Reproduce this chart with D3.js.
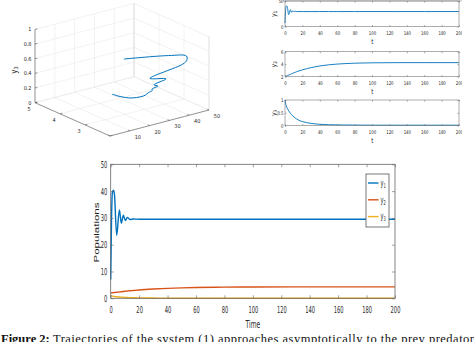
<!DOCTYPE html>
<html>
<head>
<meta charset="utf-8">
<script src="https://cdn.jsdelivr.net/npm/d3@7"></script>
<style>
  body { margin: 0; background: #fff; }
  svg { display: block; }
</style>
</head>
<body>
<script>
// sampled solution of the system, shared by every panel
const times = [0, 0.6, 1.2, 1.9, 2.6, 4.2, 6.1, 7.5, 8.9, 10.3, 11.7, 13.5, 16, 20, 30, 40, 50, 60, 80, 100, 130, 160, 200];
const y1 = [7, 30, 39.5, 40.3, 39, 23.5, 33, 28, 31, 29, 30.2, 29.4, 29.6, 29.5, 29.5, 29.5, 29.5, 29.5, 29.5, 29.5, 29.5, 29.5, 29.5];
const y2 = [2, 2.03, 2.07, 2.12, 2.17, 2.26, 2.37, 2.46, 2.54, 2.62, 2.7, 2.8, 2.92, 3.1, 3.45, 3.72, 3.9, 4.02, 4.16, 4.22, 4.25, 4.25, 4.25];
const y3 = [1, 0.88, 0.8, 0.73, 0.68, 0.58, 0.49, 0.43, 0.38, 0.34, 0.3, 0.26, 0.21, 0.16, 0.09, 0.055, 0.04, 0.03, 0.025, 0.02, 0.02, 0.02, 0.02];

const seriesSubs = ['1', '2', '3'];
const seriesColors = ['#0072BD', '#D95319', '#EDB120'];
const timeTicks = d3.range(0, 201, 20);
const popTicks = d3.range(0, 51, 10);
const panelTicks = [[0, 50], [2, 4, 6], [0, 0.5, 1]];
const panelDomains = [[0, 50], [2, 6], [0, 1]];
const phaseXTicks = d3.range(0, 51, 10);
const phaseYTicks = [2, 3, 4, 5];
const phaseZTicks = [0, 0.2, 0.4, 0.6, 0.8, 1];
const caption = 'Trajectories of the system (1) approaches asymptotically to the prey predator';

const FONT = '"Liberation Sans Narrow","DejaVu Sans Condensed","Liberation Sans",Arial,sans-serif';
const SANS = '"Liberation Sans",Arial,sans-serif';
const fmt = d3.format('~g');

const svg = d3.select('body').append('svg').attr('width', 474).attr('height', 342);
const defs = svg.append('defs');

// text squeezed horizontally by k, optionally rotated, with an optional subscript
function label(parent, x, y, txt, opts = {}) {
  const k = opts.k || 1;
  const g = parent.append('g')
    .attr('transform', `translate(${x},${y}) scale(${k},1)` + (opts.rotate ? ` rotate(${opts.rotate})` : ''));
  const t = g.append('text')
    .attr('text-anchor', opts.anchor || 'middle')
    .attr('dy', opts.dy || '0.35em')
    .attr('font-size', opts.size || 10)
    .attr('font-family', opts.family || FONT)
    .attr('fill', opts.fill || '#262626')
    .text(txt);
  if (opts.sub) {
    t.append('tspan').attr('dy', '0.3em').attr('font-size', (opts.size || 10) * 0.7).text(opts.sub);
  }
  return t;
}

function styleAxis(sel, size, k, labels = true) {
  sel.select('.domain').remove();
  sel.selectAll('line').attr('stroke', '#666').attr('stroke-width', 0.6);
  if (!labels) { sel.selectAll('text').remove(); return; }
  sel.selectAll('text')
    .attr('font-size', size)
    .attr('font-family', FONT)
    .attr('fill', '#262626')
    .each(function() {
      const t = d3.select(this);
      const x = +t.attr('x') || 0;
      t.attr('x', x / k).attr('transform', `scale(${k},1)`);
    });
}

/* ------- main time plot ------- */
const main = {left: 110.7, right: 395, top: 164.3, bottom: 298.3};
const x = d3.scaleLinear().domain([0, 200]).range([main.left, main.right]);
const y = d3.scaleLinear().domain([0, 50]).range([main.bottom, main.top]);
const mainG = svg.append('g');

mainG.append('rect')
  .attr('x', main.left).attr('y', main.top)
  .attr('width', main.right - main.left).attr('height', main.bottom - main.top)
  .attr('fill', '#fff');

[y1, y2, y3].forEach((vals, k) => {
  mainG.append('path')
    .attr('d', d3.line().x((d, i) => x(times[i])).y(d => y(d)).curve(d3.curveMonotoneX)(vals))
    .attr('fill', 'none')
    .attr('stroke', seriesColors[k])
    .attr('stroke-width', 1.4);
});

mainG.append('g').attr('transform', `translate(0,${main.bottom})`)
  .call(d3.axisBottom(x).tickValues(timeTicks).tickFormat(fmt).tickSize(-3).tickPadding(8))
  .call(s => styleAxis(s, 9.5, 0.6));
mainG.append('g').attr('transform', `translate(0,${main.top})`)
  .call(d3.axisTop(x).tickValues(timeTicks).tickSize(-3))
  .call(s => styleAxis(s, 9, 1, false));
mainG.append('g').attr('transform', `translate(${main.left},0)`)
  .call(d3.axisLeft(y).tickValues(popTicks).tickFormat(fmt).tickSize(-3).tickPadding(3.4))
  .call(s => styleAxis(s, 9.5, 0.6));
mainG.append('g').attr('transform', `translate(${main.right},0)`)
  .call(d3.axisRight(y).tickValues(popTicks).tickSize(-3))
  .call(s => styleAxis(s, 9, 1, false));

mainG.append('rect')
  .attr('x', main.left).attr('y', main.top)
  .attr('width', main.right - main.left).attr('height', main.bottom - main.top)
  .attr('fill', 'none').attr('stroke', '#666').attr('stroke-width', 0.8);

label(mainG, (main.left + main.right) / 2, 324.5, 'Time', {k: 0.6, size: 11});
label(mainG, 96.2, 232.5, 'Populations', {k: 0.6, size: 11.5, rotate: -90, family: SANS, fill: '#1a1a1a'});

// legend
const legend = mainG.append('g');
legend.append('rect')
  .attr('x', 366).attr('y', 174).attr('width', 23).attr('height', 53)
  .attr('fill', '#fff').attr('stroke', '#555').attr('stroke-width', 0.8);
seriesColors.forEach((c, k) => {
  const ly = 183 + k * 16.8;
  legend.append('line')
    .attr('x1', 368).attr('x2', 378.5).attr('y1', ly).attr('y2', ly)
    .attr('stroke', c).attr('stroke-width', 1.4);
  label(legend, 380.5, ly - 0.5, 'y', {k: 0.6, size: 9.5, anchor: 'start', sub: seriesSubs[k]});
});

/* ------- three small panels, y1, y2, y3 against t ------- */
defs.append('clipPath').attr('id', 'clip-panels')
  .append('rect').attr('x', 262).attr('y', 0).attr('width', 200).attr('height', 150);
const panels = svg.append('g').attr('clip-path', 'url(#clip-panels)');
panels.append('rect').attr('x', 283).attr('y', 0).attr('width', 191).attr('height', 1.6).attr('fill', '#d2d2d2');

const px = d3.scaleLinear().domain([0, 200]).range([285, 459]);
const panelBoxes = [[1, 26.7], [51.7, 76.7], [100, 125.7]];
[y1, y2, y3].forEach((vals, k) => {
  const [top, bottom] = panelBoxes[k];
  const py = d3.scaleLinear().domain(panelDomains[k]).range([bottom, top]);
  const g = panels.append('g');
  g.append('path')
    .attr('d', d3.line().x((d, i) => px(times[i])).y(d => py(d)).curve(d3.curveMonotoneX)(vals))
    .attr('fill', 'none').attr('stroke', seriesColors[0]).attr('stroke-width', 0.9);
  g.append('g').attr('transform', `translate(0,${bottom})`)
    .call(d3.axisBottom(px).tickValues(timeTicks).tickFormat(fmt).tickSize(-1.5).tickPadding(4.8))
    .call(s => styleAxis(s, 5, 0.85));
  g.append('g').attr('transform', `translate(0,${top})`)
    .call(d3.axisTop(px).tickValues(timeTicks).tickSize(-1.5))
    .call(s => styleAxis(s, 5, 1, false));
  g.append('g').attr('transform', 'translate(285,0)')
    .call(d3.axisLeft(py).tickValues(panelTicks[k]).tickFormat(fmt).tickSize(-1.5).tickPadding(1.5))
    .call(s => styleAxis(s, 5, 0.85));
  g.append('g').attr('transform', 'translate(459,0)')
    .call(d3.axisRight(py).tickValues(panelTicks[k]).tickSize(-1.5))
    .call(s => styleAxis(s, 5, 1, false));
  g.append('rect')
    .attr('x', 285).attr('y', top).attr('width', 174).attr('height', bottom - top)
    .attr('fill', 'none').attr('stroke', '#777').attr('stroke-width', 0.6);
  label(g, 372.3, bottom + 15, 't', {k: 0.85, size: 7});
  label(g, 273.5, (top + bottom) / 2, 'y', {k: 1, size: 7, rotate: -90, sub: seriesSubs[k]});
});

/* ------- phase portrait (y1, y2, y3) ------- */
defs.append('clipPath').attr('id', 'clip-phase')
  .append('rect').attr('x', 0).attr('y', 0).attr('width', 265).attr('height', 139);
const phase = svg.append('g').attr('clip-path', 'url(#clip-phase)');

const xs = d3.scaleLinear().domain([0, 50]).range([0, 1]);
const ys = d3.scaleLinear().domain([2, 5]).range([0, 1]);
const zs = d3.scaleLinear().domain([0, 1]).range([0, 1]);
const origin = [110, 136];
const ex = [99, -26], ey = [-75, -33.3], ez = [0, -73.3];
function proj(a, b, c) {
  const u = xs(a), v = ys(b), w = zs(c);
  return [origin[0] + u * ex[0] + v * ey[0] + w * ez[0],
          origin[1] + u * ex[1] + v * ey[1] + w * ez[1]];
}
const seg = (p, q, color, width) => phase.append('line')
  .attr('x1', p[0]).attr('y1', p[1]).attr('x2', q[0]).attr('y2', q[1])
  .attr('stroke', color).attr('stroke-width', width);

const gridColor = '#e4e4e4';
const [xMin, xMax] = xs.domain(), [yMin, yMax] = ys.domain(), [zMin, zMax] = zs.domain();
phaseXTicks.forEach(v => {
  seg(proj(v, yMin, zMin), proj(v, yMax, zMin), gridColor, 0.5);
  seg(proj(v, yMax, zMin), proj(v, yMax, zMax), gridColor, 0.5);
});
phaseYTicks.forEach(v => {
  seg(proj(xMin, v, zMin), proj(xMax, v, zMin), gridColor, 0.5);
  seg(proj(xMax, v, zMin), proj(xMax, v, zMax), gridColor, 0.5);
});
phaseZTicks.forEach(v => {
  seg(proj(xMin, yMax, v), proj(xMax, yMax, v), gridColor, 0.5);
  seg(proj(xMax, yMax, v), proj(xMax, yMin, v), gridColor, 0.5);
});
// box edges at the back
seg(proj(xMax, yMin, zMin), proj(xMax, yMin, zMax), '#d6d6d6', 0.6);
seg(proj(xMax, yMax, zMin), proj(xMax, yMax, zMax), '#d6d6d6', 0.6);

// axis lines with ticks
const axisColor = '#555';
seg(proj(xMin, yMin, zMin), proj(xMax, yMin, zMin), axisColor, 0.6);
seg(proj(xMin, yMin, zMin), proj(xMin, yMax, zMin), axisColor, 0.6);
seg(proj(xMin, yMax, zMin), proj(xMin, yMax, zMax), axisColor, 0.6);
phaseXTicks.forEach(v => {
  seg(proj(v, yMin, zMin), proj(v, yMin + 0.07, zMin), axisColor, 0.6);
  const p = proj(v, yMin, zMin);
  label(phase, p[0] + 8, p[1] + 6, fmt(v), {size: 5.5});
});
phaseYTicks.forEach(v => {
  seg(proj(xMin, v, zMin), proj(xMin + 1.2, v, zMin), axisColor, 0.6);
  const p = proj(xMin, v, zMin);
  label(phase, p[0] - 6, p[1] + 6, fmt(v), {size: 5.5});
});
phaseZTicks.forEach(v => {
  seg(proj(xMin, yMax, v), proj(xMin + 1.2, yMax, v), axisColor, 0.6);
  const p = proj(xMin, yMax, v);
  label(phase, p[0] - 3.5, p[1], fmt(v), {size: 5.5, anchor: 'end'});
});
label(phase, 14, 70, 'y', {size: 8, rotate: -90, sub: '3'});

// trajectory
phase.append('path')
  .attr('d', d3.line().curve(d3.curveCatmullRom.alpha(0.5))(times.map((t, i) => proj(y1[i], y2[i], y3[i]))))
  .attr('fill', 'none').attr('stroke', seriesColors[0]).attr('stroke-width', 1);

/* ------- caption ------- */
svg.append('text')
  .attr('x', 1).attr('y', 342.5)
  .attr('font-family', '"Liberation Serif","Times New Roman",serif')
  .attr('font-size', 12.5).attr('font-weight', 'bold').attr('fill', '#111')
  .text('Figure 2:');
svg.append('text')
  .attr('x', 53).attr('y', 342.5)
  .attr('font-family', '"Liberation Serif","Times New Roman",serif')
  .attr('font-size', 12.5).attr('fill', '#111')
  .attr('textLength', 421).attr('lengthAdjust', 'spacing')
  .text(caption);
</script>
</body>
</html>
